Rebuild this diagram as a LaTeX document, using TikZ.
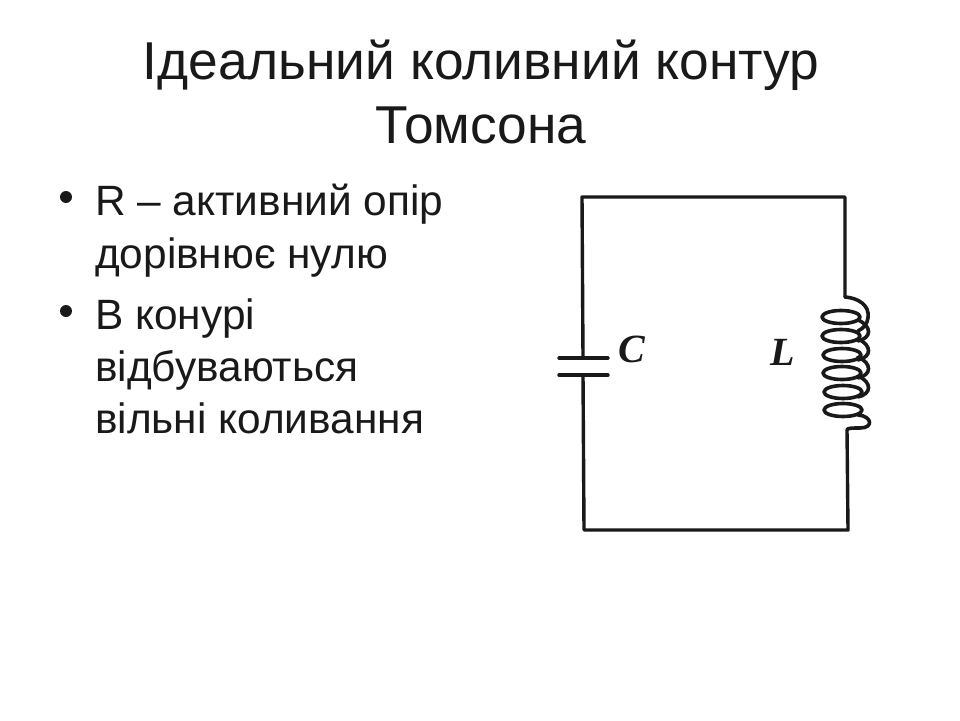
\documentclass[tikz,border=0pt]{standalone}
\usepackage{fontspec}
\setmainfont{Liberation Sans}
\newfontfamily\labelfont{Liberation Serif}
\usetikzlibrary{positioning}
\tikzset{
  titletext/.style={font=\fontsize{53.3}{64}\selectfont,align=center,text=black!90},
  bodytext/.style={font=\fontsize{42.4}{52}\selectfont,align=left,anchor=base west,text=black!90,inner sep=0pt},
  bullet/.style={circle,fill=black!90,inner sep=0pt,minimum size=12pt},
  wire/.style={line width=3.4pt,black!90},
  coil/.style={line width=3.6pt,black!90},
  letter/.style={font=\labelfont\bfseries\itshape\fontsize{40}{40}\selectfont,text=black!90,inner sep=0pt}
}
\begin{document}
\begin{tikzpicture}[line cap=round,line join=round,x=1pt,y=-1pt]
\useasboundingbox (0,0) rectangle (960,720);
\node[titletext] (title) at (481,92) {Ідеальний коливний контур\\Томсона};
\node[bullet] (b1) at (66,197) {};
\node[bullet] (b2) at (66,311) {};
\node[bodytext] (t1) at (95,215) {R – активний опір};
\node[bodytext] (t2) at (95,268) {дорівнює нулю};
\node[bodytext] (t3) at (95,329) {В конурі};
\node[bodytext] (t4) at (95,381) {відбуваються};
\node[bodytext] (t5) at (95,433) {вільні коливання};
%
\coordinate (tl) at (582,197);
\coordinate (tr) at (845,197);
\coordinate (br) at (848,530);
\coordinate (bl) at (584,530);
\coordinate (capa) at (583,358);
\coordinate (capb) at (583,375);
\coordinate (coila) at (845,297);
\coordinate (coilb) at (847,430);
\draw[wire] (capa)--(tl)--(tr)--(coila);
\draw[wire] (coilb)--(br)--(bl)--(capb);
\draw[wire] (559,358)--(608,358);
\draw[wire] (559,375)--(608,375);
\node[letter] (cname) at (632,349) {C};
\node[letter] (lname) at (783,352) {L};
%
\foreach \y/\x in {317/841,336/841,355/842,373/842,392/843,410/843}{
  \draw[coil] (\x,\y) ellipse (19 and 6.5);
}
\draw[coil] (coila) .. controls (858,298) and (870,305) .. (868,318) .. controls (867,324) and (864,328) .. (858,331);
\foreach \y in {340,359,377,396}{
  \draw[coil] (858,\y-20) .. controls (872,\y-14) and (872,\y-2) .. (858,\y+1);
}
\draw[coil] (858,415) .. controls (872,416) and (874,428) .. (860,428) .. controls (852,428) and (847,428) .. (coilb);
\end{tikzpicture}
\end{document}
